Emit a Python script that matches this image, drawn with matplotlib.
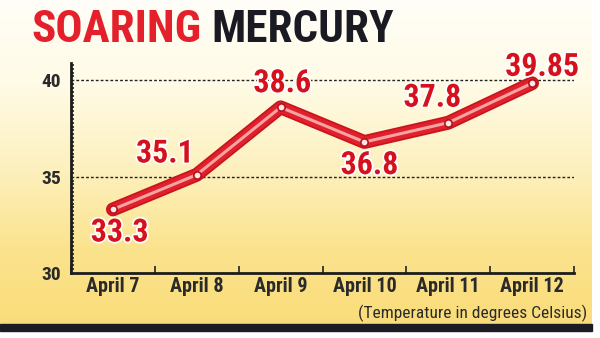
import numpy as np
import matplotlib.pyplot as plt
import matplotlib.patheffects as pe
from matplotlib import font_manager
from matplotlib.colors import LinearSegmentedColormap
from matplotlib.patches import Rectangle

# data
days = ['April 7', 'April 8', 'April 9', 'April 10', 'April 11', 'April 12']
temps = [33.3, 35.1, 38.6, 36.8, 37.8, 39.85]
temp_labels = ['33.3', '35.1', '38.6', '36.8', '37.8', '39.85']
# where each value label sits (category offset, temperature)
label_x = [0.08, 0.62, 2.02, 3.06, 3.81, 5.12]
label_y = [32.1, 36.2, 39.85, 35.6, 39.1, 40.7]
y_ticks = [30, 35, 40]

# pick the narrowest installed family we know of
installed = {f.name for f in font_manager.fontManager.ttflist}
narrow = 'DejaVu Sans'
for name in ['Liberation Sans Narrow', 'Roboto Condensed', 'Open Sans Condensed', 'Roboto']:
    if name in installed:
        narrow = name
        break

red = '#e0212b'
dark = '#2a2a2a'

fig = plt.figure(figsize=(6, 3.38), dpi=100)
fig.patch.set_facecolor('white')

# gradient background panel
bg = fig.add_axes([0, 0, 1, 1], zorder=-5)
bg.set_axis_off()
cmap = LinearSegmentedColormap.from_list(
    'bg', ['#fffef8', '#fffbe6', '#fdf1c0', '#fbe38e', '#fadc78'])
grad = np.linspace(0, 1, 256).reshape(-1, 1)
bg.imshow(grad, aspect='auto', cmap=cmap, extent=[0, 592, 331, 0])
bg.add_patch(Rectangle((0, 324), 592, 7, color='#1c1c24'))
bg.set_xlim(0, 600)
bg.set_ylim(338, 0)

# title
fig.text(0.053, 0.91, 'SOARING', color='#e3202c', fontsize=32.5,
         fontweight='bold', family=narrow, va='center')
fig.text(0.352, 0.91, 'MERCURY', color='#1a1a22', fontsize=32.5,
         fontweight='bold', family=narrow, va='center')

ax = fig.add_axes([71 / 600, 65 / 338, 503 / 600, 210 / 338])
ax.patch.set_alpha(0)
x = np.arange(len(days))

# tube-like line
ax.plot(x, temps, color='#c8141e', lw=10, solid_capstyle='round',
        solid_joinstyle='round', zorder=3)
ax.plot(x, temps, color=red, lw=7.5, solid_capstyle='round',
        solid_joinstyle='round', zorder=4)
ax.plot(x, temps, color='#f6a3a3', lw=2.2, solid_capstyle='round',
        solid_joinstyle='round', zorder=5)
ax.scatter(x, temps, s=28, facecolor='#fbe9e9', edgecolor='#b5121b',
           lw=1.2, zorder=6)

for lx, ly, txt in zip(label_x, label_y, temp_labels):
    ax.text(lx, ly, txt, color='#d5111d', fontsize=23, fontweight='bold',
            family=narrow, ha='center', va='center', zorder=7,
            path_effects=[pe.withStroke(linewidth=2.5, foreground='white')])

for yv in [35, 40]:
    ax.axhline(yv, color='#222222', lw=1, ls=(0, (2, 1.5)), zorder=1)

ax.set_xlim(-0.5, 5.5)
ax.set_ylim(30, 40.9)
ax.set_yticks(y_ticks)
ax.set_yticklabels([str(v) for v in y_ticks], fontsize=14, fontweight='bold',
                   family=narrow, color=dark)
ax.set_yticks(np.arange(30, 41, 0.2), minor=True)
ax.tick_params(axis='y', which='major', length=0, pad=7)
ax.tick_params(axis='y', which='minor', length=2.5, width=1.2,
               direction='in', color='#222222')

ax.set_xticks(np.arange(-0.5, 6, 1))
ax.set_xticklabels([])
ax.set_xticks(x, minor=True)
ax.set_xticklabels(days, minor=True, fontsize=14.5, fontweight='bold',
                   family=narrow, color=dark)
ax.tick_params(axis='x', which='major', length=5, width=1.2,
               direction='in', color='#222222')
ax.tick_params(axis='x', which='minor', length=0, pad=3)

for side in ['top', 'right']:
    ax.spines[side].set_visible(False)
for side in ['left', 'bottom']:
    ax.spines[side].set_linewidth(2)
    ax.spines[side].set_color('#1c1c1c')

fig.text(0.978, 0.073, '(Temperature in degrees Celsius)', fontsize=12.5,
         family=narrow, color=dark, ha='right', va='center')

fig.savefig('out.png', dpi=100)
